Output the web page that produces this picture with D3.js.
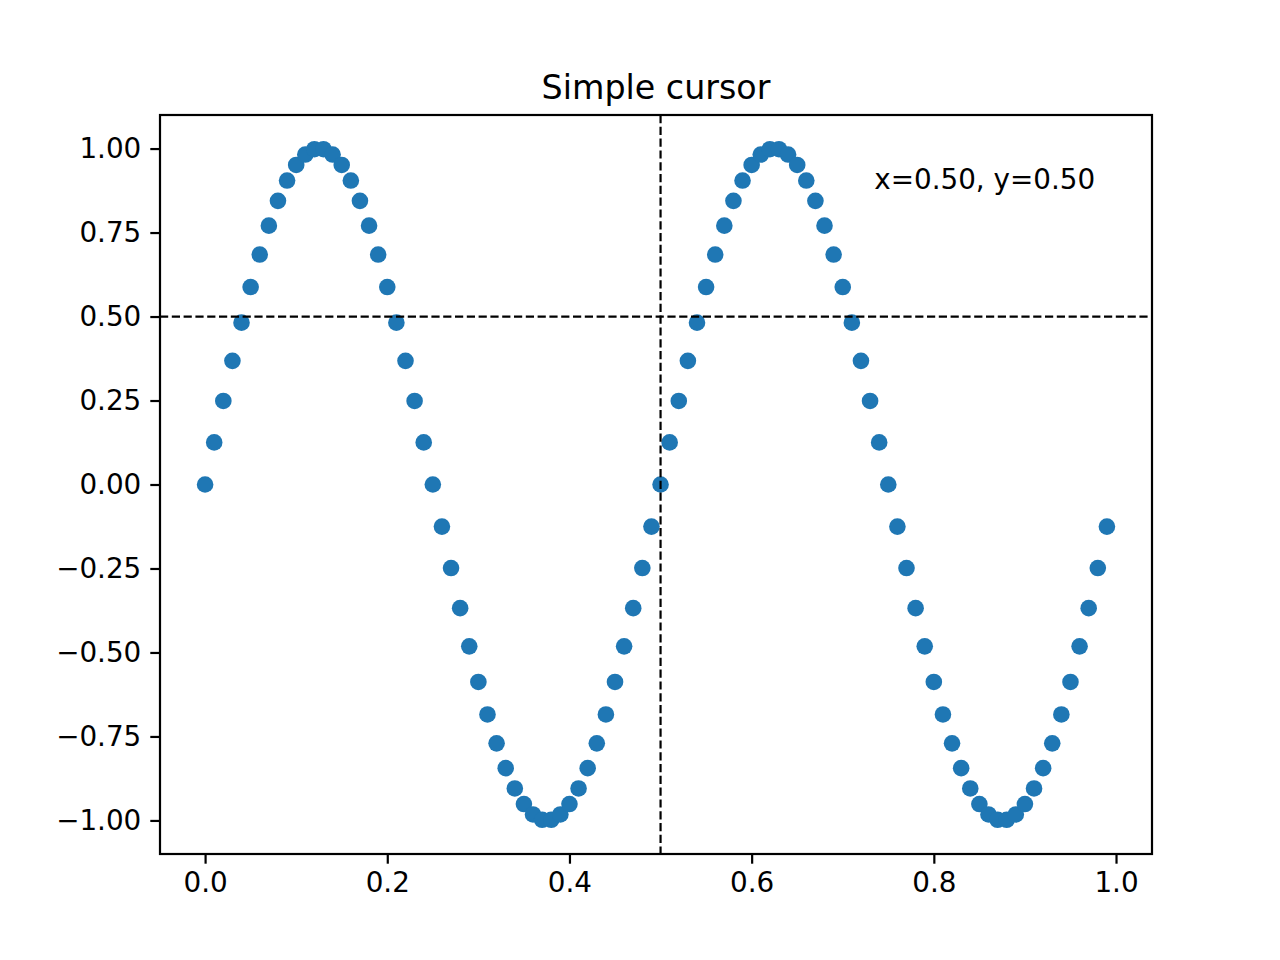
<!DOCTYPE html>
<html>
<head>
<meta charset="utf-8">
<script src="https://cdn.jsdelivr.net/npm/d3@7"></script>
<style>
  body { margin: 0; background: #fff; }
  text { font-family: "DejaVu Sans", sans-serif; }
</style>
</head>
<body>
<div class="canvas"></div>
<script>
// sample values (x step 0.01)
const xValues = d3.range(100).map(i => i / 100);
const halfWave = [0, 0.1253, 0.2487, 0.3681, 0.4818, 0.5878, 0.6845, 0.7705, 0.8443, 0.9048,
  0.9511, 0.9823, 0.9980, 0.9980, 0.9823, 0.9511, 0.9048, 0.8443, 0.7705, 0.6845,
  0.5878, 0.4818, 0.3681, 0.2487, 0.1253];
const yPeriod = [...halfWave, ...halfWave.map(v => v === 0 ? 0 : -v)];
const yValues = [...yPeriod, ...yPeriod];
const xTicks = [0, 0.2, 0.4, 0.6, 0.8, 1.0];
const yTicks = [-1, -0.75, -0.5, -0.25, 0, 0.25, 0.5, 0.75, 1];
const cursor = { x: 0.5, y: 0.5 };

const dims = { width: 1280, height: 960 };
const plot = { left: 160, right: 1152, top: 115, bottom: 854 };

const svg = d3.select('.canvas')
  .append('svg')
  .attr('width', dims.width)
  .attr('height', dims.height);

const x = d3.scaleLinear().domain([-0.0495, 1.0395]).range([plot.left, plot.right]);
const y = d3.scaleLinear().domain([-1.0999, 1.0999]).range([plot.bottom, plot.top]);

const fmt = v => d3.format('.2f')(v).replace('-', '\u2212');

const xAxis = svg.append('g')
  .attr('transform', `translate(0, ${plot.bottom})`)
  .call(d3.axisBottom(x).tickValues(xTicks).tickFormat(d3.format('.1f')).tickSize(9.7).tickPadding(9));
const yAxis = svg.append('g')
  .attr('transform', `translate(${plot.left}, 0)`)
  .call(d3.axisLeft(y).tickValues(yTicks).tickFormat(fmt).tickSize(9.7).tickPadding(9));

[xAxis, yAxis].forEach(a => {
  a.select('.domain').remove();
  a.selectAll('line').attr('stroke', '#000').attr('stroke-width', 2.2);
  a.selectAll('text').attr('font-size', 27.8).attr('fill', '#000')
    .style('font-family', '"DejaVu Sans", sans-serif');
});

svg.append('g').selectAll('circle')
  .data(xValues)
  .enter()
  .append('circle')
    .attr('cx', d => x(d))
    .attr('cy', (d, i) => y(yValues[i]))
    .attr('r', 8.3)
    .attr('fill', '#1f77b4');

// crosshair
svg.append('line')
  .attr('x1', plot.left).attr('x2', plot.right)
  .attr('y1', y(cursor.y)).attr('y2', y(cursor.y))
  .attr('stroke', '#000').attr('stroke-width', 2.2).attr('stroke-dasharray', '8.2,3.6');
svg.append('line')
  .attr('x1', x(cursor.x)).attr('x2', x(cursor.x))
  .attr('y1', plot.top).attr('y2', plot.bottom)
  .attr('stroke', '#000').attr('stroke-width', 2.2).attr('stroke-dasharray', '8.2,3.6');

svg.append('rect')
  .attr('x', plot.left).attr('y', plot.top)
  .attr('width', plot.right - plot.left).attr('height', plot.bottom - plot.top)
  .attr('fill', 'none').attr('stroke', '#000').attr('stroke-width', 2.2);

svg.append('text')
  .attr('x', plot.left + 0.72 * (plot.right - plot.left))
  .attr('y', plot.bottom - 0.9 * (plot.bottom - plot.top))
  .attr('font-size', 27.8)
  .text(`x=${cursor.x.toFixed(2)}, y=${cursor.y.toFixed(2)}`);

svg.append('text')
  .attr('x', (plot.left + plot.right) / 2)
  .attr('y', plot.top - 16)
  .attr('text-anchor', 'middle')
  .attr('font-size', 33.3)
  .text('Simple cursor');
</script>
</body>
</html>
